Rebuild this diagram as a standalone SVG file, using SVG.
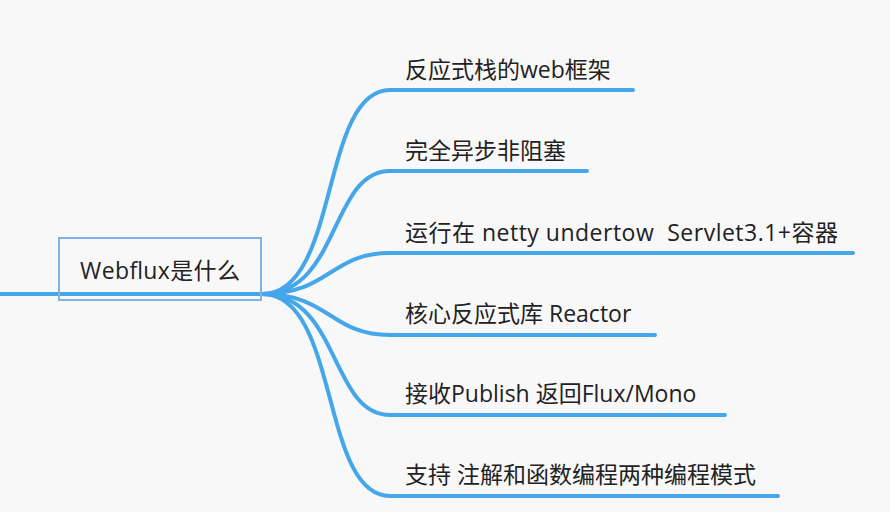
<svg xmlns="http://www.w3.org/2000/svg" width="890" height="512" viewBox="0 0 890 512">
<style>
.c{fill:none;stroke:#45a6ea;stroke-width:4;stroke-linecap:round}
.t{font-family:"Open Sans","Noto Sans CJK SC",sans-serif;font-size:23px;fill:#222}
</style>
<rect width="890" height="512" fill="#f8f8f8"/>
<g id="connectors">
<path class="c" d="M0,294 L262,294"/>
<path class="c" d="M262,294 C340,294 320,90 390,90 L633,90"/>
<path class="c" d="M262,294 C340,294 330,171 390,171 L587,171"/>
<path class="c" d="M262,294 C330,294 330,253 390,253 L853,253"/>
<path class="c" d="M262,294 C330,294 330,335 390,335 L655,335"/>
<path class="c" d="M262,294 C340,294 330,415 390,415 L725,415"/>
<path class="c" d="M262,294 C340,294 320,496 390,496 L778,496"/>
</g>
<g id="root"><rect x="59" y="238" width="202" height="62" fill="none" stroke="#7fb2e8" stroke-width="2"/>
<text class="t" x="160" y="279" text-anchor="middle" textLength="160">Webflux是什么</text></g>
<g id="n1"><text class="t" x="405" y="78">反应式栈的web框架</text></g>
<g id="n2"><text class="t" x="405" y="159">完全异步非阻塞</text></g>
<g id="n3"><text class="t" x="405" y="241" xml:space="preserve" textLength="433">运行在 netty undertow  Servlet3.1+容器</text></g>
<g id="n4"><text class="t" x="405" y="322">核心反应式库 Reactor</text></g>
<g id="n5"><text class="t" x="405" y="402">接收Publish 返回Flux/Mono</text></g>
<g id="n6"><text class="t" x="405" y="483">支持 注解和函数编程两种编程模式</text></g>
</svg>
